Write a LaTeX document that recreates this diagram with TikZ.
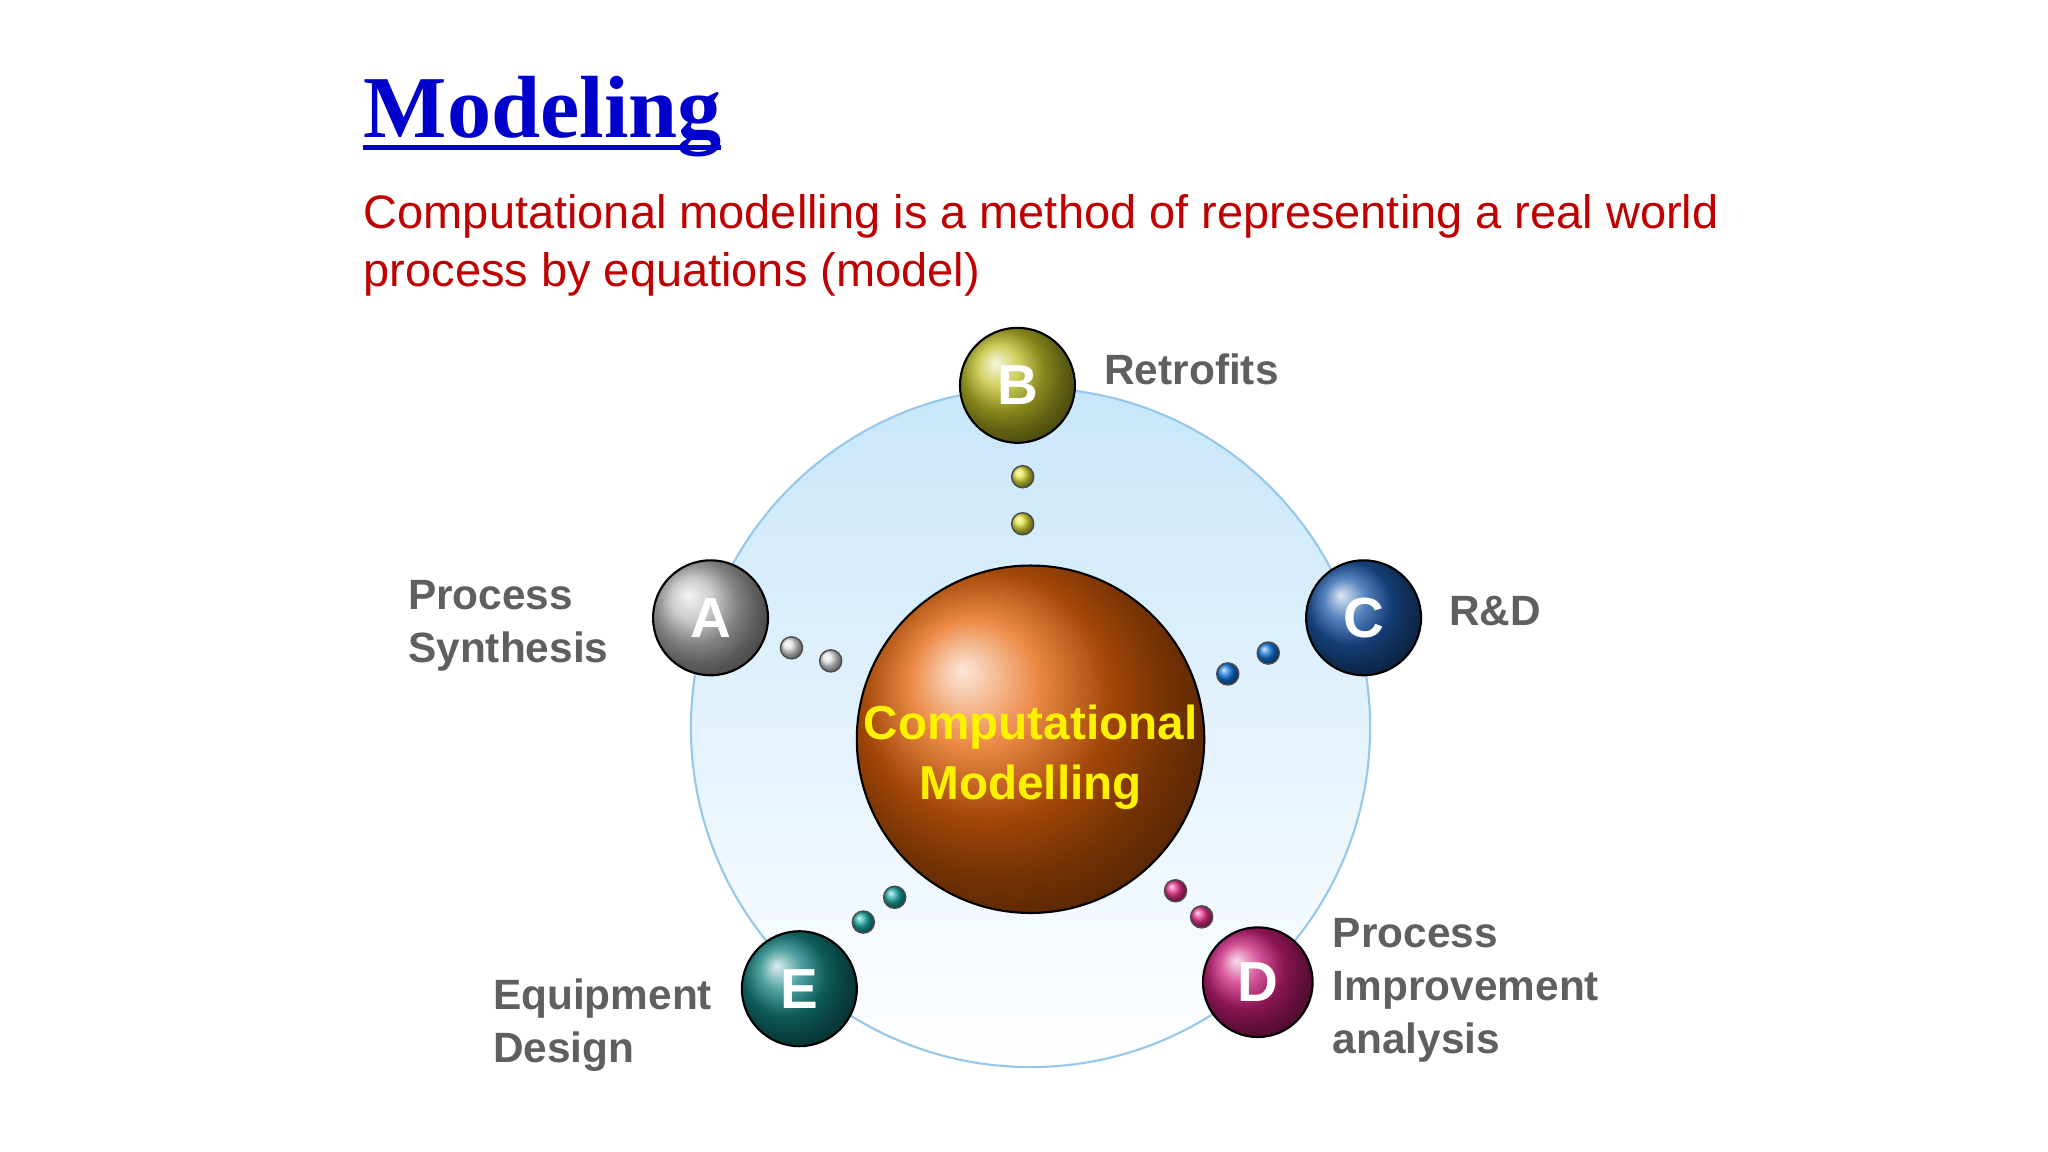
\documentclass[tikz,border=0pt]{standalone}
\usepackage{fontspec}
\setmainfont{Liberation Sans}
\newfontfamily\titlefont{Liberation Serif}
\usetikzlibrary{shadings}
\definecolor{labgray}{RGB}{95,95,95}
\definecolor{redtxt}{RGB}{192,0,0}
\definecolor{titleblue}{RGB}{0,0,204}
\begin{document}
\begin{tikzpicture}[x=0.013cm,y=-0.013cm,
  ball/.style={circle,draw=black,line width=0.6pt,inner sep=0pt,minimum size=#1*0.013cm},
  lett/.style={font=\fontsize{16}{16}\selectfont\bfseries,text=white},
  lab/.style={font=\fontsize{12}{15}\selectfont\bfseries,text=labgray,align=left,anchor=west},
  dot/.style={circle,draw=black!70,line width=0.4pt,inner sep=0pt,minimum size=0.22cm}]
\useasboundingbox (0,0) rectangle (1568,882);
\fill[white] (0,0) rectangle (1568,882);
% title
\node[anchor=base west,inner sep=0pt,font=\titlefont\fontsize{25}{25}\selectfont\bfseries,text=titleblue] (title) at (278,105) {Modeling};
\draw[titleblue,line width=1.6pt] (title.base west) ++(0,8) -- ++(274,0);
\node[anchor=north west,inner sep=0pt,align=left,font=\fontsize{13.3}{16.5}\selectfont,text=redtxt] (sub) at (278,148) {Computational modelling is a method of representing a real world\\process by equations (model)};
% background circle
\node[circle,draw={rgb,255:red,150;green,200;blue,235},line width=0.6pt,minimum size=520*0.013cm,inner sep=0pt,
  top color={rgb,255:red,200;green,230;blue,250},bottom color=white] (bg) at (789,557) {};
% centre ball
\node[ball=266,ball color={rgb,255:red,230;green,100;blue,10}] (cm) at (789,566) {};
\node[font=\fontsize{13.5}{17}\selectfont\bfseries,text=yellow,align=center] (cmt) at (789,580) {Computational\\Modelling};
% outer balls
\node[ball=88,ball color={rgb,255:red,190;green,190;blue,40}] (B) at (779,295) {};
\node[lett] at (B) {B};
\node[ball=88,ball color={rgb,255:red,185;green,185;blue,185}] (A) at (544,473) {};
\node[lett] at (A) {A};
\node[ball=88,ball color={rgb,255:red,30;green,90;blue,170}] (C) at (1044,473) {};
\node[lett] at (C) {C};
\node[ball=84,ball color={rgb,255:red,200;green,30;blue,120}] (D) at (963,752) {};
\node[lett] at (D) {D};
\node[ball=88,ball color={rgb,255:red,20;green,130;blue,130}] (E) at (612,757) {};
\node[lett] at (E) {E};
% dots
\node[dot,ball color={rgb,255:red,225;green,225;blue,60}] (b1) at (783,365) {};
\node[dot,ball color={rgb,255:red,225;green,225;blue,60}] (b2) at (783,401) {};
\node[dot,ball color={rgb,255:red,225;green,225;blue,225}] (a1) at (606,496) {};
\node[dot,ball color={rgb,255:red,225;green,225;blue,225}] (a2) at (636,506) {};
\node[dot,ball color={rgb,255:red,20;green,120;blue,220}] (c1) at (940,516) {};
\node[dot,ball color={rgb,255:red,20;green,120;blue,220}] (c2) at (971,500) {};
\node[dot,ball color={rgb,255:red,230;green,50;blue,140}] (d1) at (900,682) {};
\node[dot,ball color={rgb,255:red,230;green,50;blue,140}] (d2) at (920,702) {};
\node[dot,ball color={rgb,255:red,30;green,170;blue,165}] (e1) at (661,706) {};
\node[dot,ball color={rgb,255:red,30;green,170;blue,165}] (e2) at (685,687) {};
% labels
\node[lab] (lB) at (836,283) {Retrofits};
\node[lab] (lC) at (1100,468) {R\&D};
\node[lab] (lA) at (303,479) {Process\\Synthesis};
\node[lab] (lE) at (368,785) {Equipment\\Design};
\node[lab] (lD) at (1011,758) {Process\\Improvement\\analysis};
\end{tikzpicture}
\end{document}
